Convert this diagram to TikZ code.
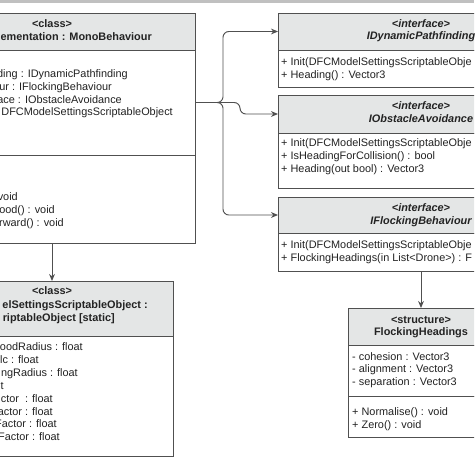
\documentclass[tikz,border=0pt]{standalone}
\usepackage{fontspec}
\setmainfont{Liberation Sans}
\usetikzlibrary{arrows.meta}
\begin{document}
\begin{tikzpicture}[x=0.03cm, y=-0.03cm, font=\fontsize{9.3}{11}\selectfont,
  part/.style 2 args={draw=umlline, line width=0.8pt, anchor=north west, minimum width=#1*0.03cm, minimum height=#2*0.03cm, inner sep=0pt, outer sep=0pt},
  head/.style={fill=umlhead},
  body/.style={fill=white},
  member/.style={text=umltext, inner sep=0pt, text height=7pt, text depth=2pt},
  title/.style={member, font=\fontsize{9.3}{11}\selectfont\bfseries},
  ititle/.style={member, font=\fontsize{9.3}{11}\selectfont\bfseries\itshape},
  link/.style={draw=umlline, line width=0.8pt, -{Stealth[length=6pt, width=5pt]}, rounded corners=5pt}]
  \definecolor{umlline}{RGB}{80,80,80}
  \definecolor{umlhead}{RGB}{228,230,230}
  \definecolor{umltext}{RGB}{35,35,35}
  \definecolor{topband}{RGB}{192,192,192}
  \useasboundingbox (0,0) rectangle (474,474);
  \clip (0,0) rectangle (474,474);
  \fill[topband] (0,0) rectangle (474,2.5);
  \node[part={286}{37}, head] (implHead) at (-91,13) {};
  \node[part={286}{105}, body] (implAttr) at (-91,50) {};
  \node[part={286}{88}, body] (implOps) at (-91,155) {};
  \node[title] (implStereo) at (52,25) {<class>};
  \node[title, anchor=east] (implName) at (152,38) {ementation : MonoBehaviour};
  \node[member, anchor=east] (implA1) at (128,75) {ding : IDynamicPathfinding};
  \node[member, anchor=east] (implA2) at (112,88) {ur : IFlockingBehaviour};
  \node[member, anchor=east] (implA3) at (122,101) {ace : IObstacleAvoidance};
  \node[member, anchor=east] (implA4) at (173,113) {DFCModelSettingsScriptableObject};
  \node[member, anchor=east] (implM1) at (18,198) {void};
  \node[member, anchor=east] (implM2) at (55,211) {ood() : void};
  \node[member, anchor=east] (implM3) at (64,224) {rward() : void};
  \node[part={242}{55}, head] (setHead) at (-69,281) {};
  \node[part={242}{120}, body] (setAttr) at (-69,336) {};
  \node[title] (setStereo) at (52,292) {<class>};
  \node[title, anchor=east] (setName1) at (148,306) {elSettingsScriptableObject :};
  \node[title, anchor=east] (setName2) at (115,319) {riptableObject [static]};
  \node[member, anchor=east] (setA1) at (83,348) {oodRadius : float};
  \node[member, anchor=east] (setA2) at (39,361) {lc : float};
  \node[member, anchor=east] (setA3) at (78,374) {ngRadius : float};
  \node[member, anchor=east] (setA4) at (4,387) {t};
  \node[member, anchor=east] (setA5) at (53,400) {ctor \ : float};
  \node[member, anchor=east] (setA6) at (53,413) {actor : float};
  \node[member, anchor=east] (setA7) at (57,425) {Factor : float};
  \node[member, anchor=east] (setA8) at (60,438) {Factor : float};
  \node[part={286}{37}, head] (dynHead) at (278,13) {};
  \node[part={286}{37}, body] (dynOps) at (278,50) {};
  \node[ititle] (dynStereo) at (421,25) {<interface>};
  \node[ititle] (dynName) at (421,37) {IDynamicPathfinding};
  \node[member, anchor=west] (dynM1) at (281,63) {+ Init(DFCModelSettingsScriptableObje};
  \node[member, anchor=west] (dynM2) at (281,76) {+ Heading() : Vector3};
  \node[part={286}{38}, head] (obsHead) at (278,95) {};
  \node[part={286}{55}, body] (obsOps) at (278,133) {};
  \node[ititle] (obsStereo) at (421,107) {<interface>};
  \node[ititle] (obsName) at (421,120) {IObstacleAvoidance};
  \node[member, anchor=west] (obsM1) at (281,144) {+ Init(DFCModelSettingsScriptableObje};
  \node[member, anchor=west] (obsM2) at (281,157) {+ IsHeadingForCollision() : bool};
  \node[member, anchor=west] (obsM3) at (281,170) {+ Heading(out bool) : Vector3};
  \node[part={286}{36}, head] (flkHead) at (278,197) {};
  \node[part={286}{38}, body] (flkOps) at (278,233) {};
  \node[ititle] (flkStereo) at (421,209) {<interface>};
  \node[ititle] (flkName) at (421,222) {IFlockingBehaviour};
  \node[member, anchor=west] (flkM1) at (281,246) {+ Init(DFCModelSettingsScriptableObje};
  \node[member, anchor=west] (flkM2) at (281,259) {+ FlockingHeadings(in List<Drone>) : F};
  \node[part={146}{37}, head] (fhHead) at (348,308) {};
  \node[part={146}{51}, body] (fhAttr) at (348,345) {};
  \node[part={146}{41}, body] (fhOps) at (348,396) {};
  \node[title] (fhStereo) at (421,321) {<structure>};
  \node[title] (fhName) at (421,333) {FlockingHeadings};
  \node[member, anchor=west] (fhA1) at (352,358) {- cohesion : Vector3};
  \node[member, anchor=west] (fhA2) at (352,370) {- alignment : Vector3};
  \node[member, anchor=west] (fhA3) at (352,383) {- separation : Vector3};
  \node[member, anchor=west] (fhM1) at (352,413) {+ Normalise() : void};
  \node[member, anchor=west] (fhM2) at (352,426) {+ Zero() : void};
  \draw[link] (implAttr.east) -- ++(28,0) |- (dynHead.west);
  \draw[link] (implAttr.east) -- ++(45,0) |- (obsHead.west);
  \draw[link] (implAttr.east) -- ++(28,0) |- (flkHead.west);
  \draw[link] (implOps.south) -- (setHead.north);
  \draw[link] (flkOps.south) -- (fhHead.north);
\end{tikzpicture}
\end{document}
